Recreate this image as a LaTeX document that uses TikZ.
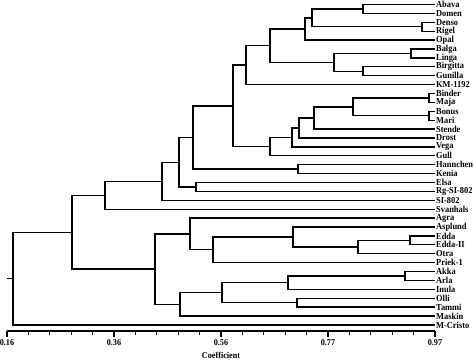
\documentclass[tikz,border=0pt]{standalone}
\usepackage{fontspec}
\setmainfont[FakeStretch=0.92]{Liberation Serif}
\usepackage{tikz}
\tikzstyle{leaf} = [anchor=west, inner sep=0.8pt, font=\bfseries\fontsize{7.8}{8}\selectfont]
\tikzstyle{branch} = [line width=1.15pt]
\tikzstyle{ticklabel} = [inner sep=0pt, font=\bfseries\fontsize{7.6}{8}\selectfont]

\begin{document}
\begin{tikzpicture}[x=0.03cm, y=-0.03cm]
        \useasboundingbox (0,0) rectangle (474,359);

        % leaves
        \node (abava) [leaf] at (435,4.5) {Abava};
        \node (domen) [leaf] at (435,13.4) {Domen};
        \node (denso) [leaf] at (435,22.3) {Denso};
        \node (rigel) [leaf] at (435,31.2) {Rigel};
        \node (opal) [leaf] at (435,40.1) {Opal};
        \node (balga) [leaf] at (435,49.0) {Balga};
        \node (linga) [leaf] at (435,57.9) {Linga};
        \node (birgitta) [leaf] at (435,66.8) {Birgitta};
        \node (gunilla) [leaf] at (435,75.7) {Gunilla};
        \node (km1192) [leaf] at (435,84.6) {KM-1192};
        \node (binder) [leaf] at (435,93.5) {Binder};
        \node (maja) [leaf] at (435,102.4) {Maja};
        \node (bonus) [leaf] at (435,111.3) {Bonus};
        \node (mari) [leaf] at (435,120.2) {Mari};
        \node (stende) [leaf] at (435,129.1) {Stende};
        \node (drost) [leaf] at (435,138.0) {Drost};
        \node (vega) [leaf] at (435,146.9) {Vega};
        \node (gull) [leaf] at (435,155.8) {Gull};
        \node (hannchen) [leaf] at (435,164.7) {Hannchen};
        \node (kenia) [leaf] at (435,173.6) {Kenia};
        \node (elsa) [leaf] at (435,182.5) {Elsa};
        \node (rgsi) [leaf] at (435,191.4) {Rg-SI-802};
        \node (si802) [leaf] at (435,200.3) {SI-802};
        \node (svanhals) [leaf] at (435,209.2) {Svanhals};
        \node (agra) [leaf] at (435,218.1) {Agra};
        \node (asplund) [leaf] at (435,227.0) {Asplund};
        \node (edda) [leaf] at (435,235.9) {Edda};
        \node (eddaii) [leaf] at (435,244.8) {Edda-II};
        \node (otra) [leaf] at (435,253.7) {Otra};
        \node (priek) [leaf] at (435,262.6) {Priek-1};
        \node (akka) [leaf] at (435,271.5) {Akka};
        \node (arla) [leaf] at (435,280.4) {Arla};
        \node (inula) [leaf] at (435,289.3) {Inula};
        \node (olli) [leaf] at (435,298.2) {Olli};
        \node (tammi) [leaf] at (435,307.1) {Tammi};
        \node (maskin) [leaf] at (435,316.0) {Maskin};
        \node (mcristo) [leaf] at (435,324.9) {M-Cristo};

        % joins
        \coordinate (ad) at (363,8.95);
        \coordinate (dr) at (422,26.75);
        \coordinate (adr) at (312,17.85);
        \coordinate (adro) at (305,28.98);
        \coordinate (bl) at (411,53.45);
        \coordinate (bg) at (363,71.25);
        \coordinate (blbg) at (334,62.35);
        \coordinate (top) at (270,45.66);
        \coordinate (topkm) at (246,65.13);
        \coordinate (bm) at (429,97.95);
        \coordinate (bom) at (429,115.75);
        \coordinate (bbm) at (353,106.85);
        \coordinate (ste) at (314,117.98);
        \coordinate (dro) at (299,127.99);
        \coordinate (veg) at (292,137.44);
        \coordinate (gul) at (270,146.62);
        \coordinate (upper) at (233,105.87);
        \coordinate (hk) at (298,169.15);
        \coordinate (uhk) at (193,137.51);
        \coordinate (er) at (196,186.95);
        \coordinate (uer) at (179,162.23);
        \coordinate (usi) at (162,181.27);
        \coordinate (usv) at (105,195.23);
        \coordinate (ee) at (410,240.35);
        \coordinate (eeo) at (358,247.03);
        \coordinate (aee) at (293,237.01);
        \coordinate (aep) at (213,249.8);
        \coordinate (agr) at (190,233.95);
        \coordinate (aa) at (405,275.95);
        \coordinate (aai) at (288,282.63);
        \coordinate (ot) at (297,302.65);
        \coordinate (aot) at (222,292.64);
        \coordinate (mas) at (180,304.32);
        \coordinate (low) at (155,269.13);
        \coordinate (main) at (72,232.18);
        \coordinate (root) at (13,278.54);
        \coordinate (stub) at (7,278.54);

        % branches
        \draw [branch] (ad) |- (abava) (ad) |- (domen);
        \draw [branch] (dr) |- (denso) (dr) |- (rigel);
        \draw [branch] (adr) |- (ad) (adr) |- (dr);
        \draw [branch] (adro) |- (adr) (adro) |- (opal);
        \draw [branch] (bl) |- (balga) (bl) |- (linga);
        \draw [branch] (bg) |- (birgitta) (bg) |- (gunilla);
        \draw [branch] (blbg) |- (bl) (blbg) |- (bg);
        \draw [branch] (top) |- (adro) (top) |- (blbg);
        \draw [branch] (topkm) |- (top) (topkm) |- (km1192);
        \draw [branch] (bm) |- (binder) (bm) |- (maja);
        \draw [branch] (bom) |- (bonus) (bom) |- (mari);
        \draw [branch] (bbm) |- (bm) (bbm) |- (bom);
        \draw [branch] (ste) |- (bbm) (ste) |- (stende);
        \draw [branch] (dro) |- (ste) (dro) |- (drost);
        \draw [branch] (veg) |- (dro) (veg) |- (vega);
        \draw [branch] (gul) |- (veg) (gul) |- (gull);
        \draw [branch] (upper) |- (topkm) (upper) |- (gul);
        \draw [branch] (hk) |- (hannchen) (hk) |- (kenia);
        \draw [branch] (uhk) |- (upper) (uhk) |- (hk);
        \draw [branch] (er) |- (elsa) (er) |- (rgsi);
        \draw [branch] (uer) |- (uhk) (uer) |- (er);
        \draw [branch] (usi) |- (uer) (usi) |- (si802);
        \draw [branch] (usv) |- (usi) (usv) |- (svanhals);
        \draw [branch] (ee) |- (edda) (ee) |- (eddaii);
        \draw [branch] (eeo) |- (ee) (eeo) |- (otra);
        \draw [branch] (aee) |- (asplund) (aee) |- (eeo);
        \draw [branch] (aep) |- (aee) (aep) |- (priek);
        \draw [branch] (agr) |- (agra) (agr) |- (aep);
        \draw [branch] (aa) |- (akka) (aa) |- (arla);
        \draw [branch] (aai) |- (aa) (aai) |- (inula);
        \draw [branch] (ot) |- (olli) (ot) |- (tammi);
        \draw [branch] (aot) |- (aai) (aot) |- (ot);
        \draw [branch] (mas) |- (aot) (mas) |- (maskin);
        \draw [branch] (low) |- (agr) (low) |- (mas);
        \draw [branch] (main) |- (usv) (main) |- (low);
        \draw [branch] (root) |- (main) (root) |- (mcristo);
        \draw [branch] (stub) -- (root);

        % axis
        \draw [branch] (7,331) -- (435,331);
        \foreach \k in {0,...,20}
            \draw [branch] (7+21.4*\k,331) -- ++(0,4);
        \foreach \v [count=\i from 0] in {0.16,0.36,0.56,0.77,0.97} {
            \draw [branch] (7+107*\i,331) -- ++(0,6);
            \node (tick\i) [ticklabel] at (7+107*\i,343) {\v};
        }
        \node (coef) [ticklabel] at (221,355) {Coefficient};
    \end{tikzpicture}
\end{document}
